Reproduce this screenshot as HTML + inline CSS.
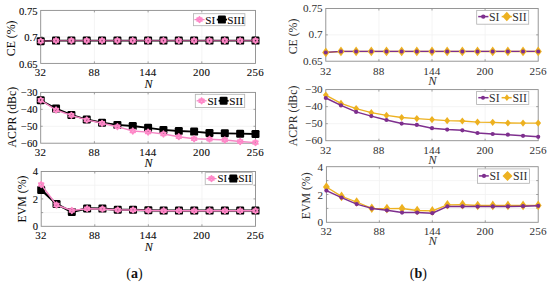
<!DOCTYPE html>
<html><head><meta charset="utf-8"><style>
html,body{margin:0;padding:0;background:#fff;width:550px;height:286px;overflow:hidden}
svg{display:block;font-family:"Liberation Serif", serif}
</style></head><body>
<svg width="550" height="286" viewBox="0 0 550 286" font-family='"Liberation Serif", serif'>
<rect width="550" height="286" fill="#fff"/>
<line x1="94.40" y1="10.40" x2="94.40" y2="63.40" stroke="#f1f1f1" stroke-width="0.8"/>
<line x1="148.10" y1="10.40" x2="148.10" y2="63.40" stroke="#f1f1f1" stroke-width="0.8"/>
<line x1="201.80" y1="10.40" x2="201.80" y2="63.40" stroke="#f1f1f1" stroke-width="0.8"/>
<line x1="40.70" y1="36.90" x2="255.50" y2="36.90" stroke="#f1f1f1" stroke-width="0.8"/>
<rect x="40.70" y="10.40" width="214.80" height="53.00" fill="none" stroke="#8c8c8c" stroke-width="0.9"/>
<line x1="94.40" y1="63.40" x2="94.40" y2="61.40" stroke="#8c8c8c" stroke-width="0.8"/>
<line x1="94.40" y1="10.40" x2="94.40" y2="12.40" stroke="#8c8c8c" stroke-width="0.8"/>
<line x1="148.10" y1="63.40" x2="148.10" y2="61.40" stroke="#8c8c8c" stroke-width="0.8"/>
<line x1="148.10" y1="10.40" x2="148.10" y2="12.40" stroke="#8c8c8c" stroke-width="0.8"/>
<line x1="201.80" y1="63.40" x2="201.80" y2="61.40" stroke="#8c8c8c" stroke-width="0.8"/>
<line x1="201.80" y1="10.40" x2="201.80" y2="12.40" stroke="#8c8c8c" stroke-width="0.8"/>
<line x1="40.70" y1="36.90" x2="42.70" y2="36.90" stroke="#8c8c8c" stroke-width="0.8"/>
<line x1="255.50" y1="36.90" x2="253.50" y2="36.90" stroke="#8c8c8c" stroke-width="0.8"/>
<text x="40.50" y="76.20" font-size="10.90" text-anchor="middle" fill="#0a0a0a" stroke="#0a0a0a" stroke-width="0.10" letter-spacing="0.25">32</text>
<text x="94.20" y="76.20" font-size="10.90" text-anchor="middle" fill="#0a0a0a" stroke="#0a0a0a" stroke-width="0.10" letter-spacing="0.25">88</text>
<text x="147.90" y="76.20" font-size="10.90" text-anchor="middle" fill="#0a0a0a" stroke="#0a0a0a" stroke-width="0.10" letter-spacing="0.25">144</text>
<text x="201.60" y="76.20" font-size="10.90" text-anchor="middle" fill="#0a0a0a" stroke="#0a0a0a" stroke-width="0.10" letter-spacing="0.25">200</text>
<text x="255.30" y="76.20" font-size="10.90" text-anchor="middle" fill="#0a0a0a" stroke="#0a0a0a" stroke-width="0.10" letter-spacing="0.25">256</text>
<text x="148.50" y="87.80" font-size="12.00" text-anchor="middle" fill="#0a0a0a" stroke="#0a0a0a" stroke-width="0.10" font-style="italic" letter-spacing="0">N</text>
<text x="37.50" y="14.70" font-size="10.60" text-anchor="end" fill="#0a0a0a" stroke="#0a0a0a" stroke-width="0.10" >0.75</text>
<text x="37.50" y="41.20" font-size="10.60" text-anchor="end" fill="#0a0a0a" stroke="#0a0a0a" stroke-width="0.10" >0.7</text>
<text x="37.50" y="67.70" font-size="10.60" text-anchor="end" fill="#0a0a0a" stroke="#0a0a0a" stroke-width="0.10" >0.65</text>
<text transform="translate(14.80,38.30) rotate(-90)" font-size="11.80" text-anchor="middle" fill="#0a0a0a">CE (%)</text>
<polyline points="40.70,41.20 56.04,40.60 71.39,40.60 86.73,40.60 102.07,40.60 117.41,40.60 132.76,40.60 148.10,40.60 163.44,40.60 178.79,40.60 194.13,40.60 209.47,40.60 224.81,40.60 240.16,40.60 255.50,40.60" fill="none" stroke="#000" stroke-width="1.80" stroke-linejoin="round"/>
<rect x="36.70" y="37.20" width="8.00" height="8.00" rx="1.2" fill="#000"/>
<rect x="52.04" y="36.60" width="8.00" height="8.00" rx="1.2" fill="#000"/>
<rect x="67.39" y="36.60" width="8.00" height="8.00" rx="1.2" fill="#000"/>
<rect x="82.73" y="36.60" width="8.00" height="8.00" rx="1.2" fill="#000"/>
<rect x="98.07" y="36.60" width="8.00" height="8.00" rx="1.2" fill="#000"/>
<rect x="113.41" y="36.60" width="8.00" height="8.00" rx="1.2" fill="#000"/>
<rect x="128.76" y="36.60" width="8.00" height="8.00" rx="1.2" fill="#000"/>
<rect x="144.10" y="36.60" width="8.00" height="8.00" rx="1.2" fill="#000"/>
<rect x="159.44" y="36.60" width="8.00" height="8.00" rx="1.2" fill="#000"/>
<rect x="174.79" y="36.60" width="8.00" height="8.00" rx="1.2" fill="#000"/>
<rect x="190.13" y="36.60" width="8.00" height="8.00" rx="1.2" fill="#000"/>
<rect x="205.47" y="36.60" width="8.00" height="8.00" rx="1.2" fill="#000"/>
<rect x="220.81" y="36.60" width="8.00" height="8.00" rx="1.2" fill="#000"/>
<rect x="236.16" y="36.60" width="8.00" height="8.00" rx="1.2" fill="#000"/>
<rect x="251.50" y="36.60" width="8.00" height="8.00" rx="1.2" fill="#000"/>
<polyline points="40.70,41.20 56.04,40.60 71.39,40.60 86.73,40.60 102.07,40.60 117.41,40.60 132.76,40.60 148.10,40.60 163.44,40.60 178.79,40.60 194.13,40.60 209.47,40.60 224.81,40.60 240.16,40.60 255.50,40.60" fill="none" stroke="#d0609f" stroke-width="0.80" stroke-linejoin="round"/>
<polygon points="40.70,38.50 39.92,39.84 38.36,39.85 39.13,41.20 38.36,42.55 39.92,42.56 40.70,43.90 41.48,42.56 43.04,42.55 42.27,41.20 43.04,39.85 41.48,39.84" fill="none" stroke="#ff88c8" stroke-width="1.8" stroke-linejoin="round"/>
<polygon points="56.04,37.90 55.26,39.24 53.70,39.25 54.48,40.60 53.70,41.95 55.26,41.96 56.04,43.30 56.83,41.96 58.38,41.95 57.61,40.60 58.38,39.25 56.83,39.24" fill="none" stroke="#ff88c8" stroke-width="1.8" stroke-linejoin="round"/>
<polygon points="71.39,37.90 70.60,39.24 69.05,39.25 69.82,40.60 69.05,41.95 70.60,41.96 71.39,43.30 72.17,41.96 73.72,41.95 72.95,40.60 73.72,39.25 72.17,39.24" fill="none" stroke="#ff88c8" stroke-width="1.8" stroke-linejoin="round"/>
<polygon points="86.73,37.90 85.95,39.24 84.39,39.25 85.16,40.60 84.39,41.95 85.95,41.96 86.73,43.30 87.51,41.96 89.07,41.95 88.29,40.60 89.07,39.25 87.51,39.24" fill="none" stroke="#ff88c8" stroke-width="1.8" stroke-linejoin="round"/>
<polygon points="102.07,37.90 101.29,39.24 99.73,39.25 100.51,40.60 99.73,41.95 101.29,41.96 102.07,43.30 102.85,41.96 104.41,41.95 103.64,40.60 104.41,39.25 102.85,39.24" fill="none" stroke="#ff88c8" stroke-width="1.8" stroke-linejoin="round"/>
<polygon points="117.41,37.90 116.63,39.24 115.08,39.25 115.85,40.60 115.08,41.95 116.63,41.96 117.41,43.30 118.20,41.96 119.75,41.95 118.98,40.60 119.75,39.25 118.20,39.24" fill="none" stroke="#ff88c8" stroke-width="1.8" stroke-linejoin="round"/>
<polygon points="132.76,37.90 131.97,39.24 130.42,39.25 131.19,40.60 130.42,41.95 131.97,41.96 132.76,43.30 133.54,41.96 135.10,41.95 134.32,40.60 135.10,39.25 133.54,39.24" fill="none" stroke="#ff88c8" stroke-width="1.8" stroke-linejoin="round"/>
<polygon points="148.10,37.90 147.32,39.24 145.76,39.25 146.53,40.60 145.76,41.95 147.32,41.96 148.10,43.30 148.88,41.96 150.44,41.95 149.67,40.60 150.44,39.25 148.88,39.24" fill="none" stroke="#ff88c8" stroke-width="1.8" stroke-linejoin="round"/>
<polygon points="163.44,37.90 162.66,39.24 161.10,39.25 161.88,40.60 161.10,41.95 162.66,41.96 163.44,43.30 164.23,41.96 165.78,41.95 165.01,40.60 165.78,39.25 164.23,39.24" fill="none" stroke="#ff88c8" stroke-width="1.8" stroke-linejoin="round"/>
<polygon points="178.79,37.90 178.00,39.24 176.45,39.25 177.22,40.60 176.45,41.95 178.00,41.96 178.79,43.30 179.57,41.96 181.12,41.95 180.35,40.60 181.12,39.25 179.57,39.24" fill="none" stroke="#ff88c8" stroke-width="1.8" stroke-linejoin="round"/>
<polygon points="194.13,37.90 193.35,39.24 191.79,39.25 192.56,40.60 191.79,41.95 193.35,41.96 194.13,43.30 194.91,41.96 196.47,41.95 195.69,40.60 196.47,39.25 194.91,39.24" fill="none" stroke="#ff88c8" stroke-width="1.8" stroke-linejoin="round"/>
<polygon points="209.47,37.90 208.69,39.24 207.13,39.25 207.91,40.60 207.13,41.95 208.69,41.96 209.47,43.30 210.25,41.96 211.81,41.95 211.04,40.60 211.81,39.25 210.25,39.24" fill="none" stroke="#ff88c8" stroke-width="1.8" stroke-linejoin="round"/>
<polygon points="224.81,37.90 224.03,39.24 222.48,39.25 223.25,40.60 222.48,41.95 224.03,41.96 224.81,43.30 225.60,41.96 227.15,41.95 226.38,40.60 227.15,39.25 225.60,39.24" fill="none" stroke="#ff88c8" stroke-width="1.8" stroke-linejoin="round"/>
<polygon points="240.16,37.90 239.37,39.24 237.82,39.25 238.59,40.60 237.82,41.95 239.37,41.96 240.16,43.30 240.94,41.96 242.50,41.95 241.72,40.60 242.50,39.25 240.94,39.24" fill="none" stroke="#ff88c8" stroke-width="1.8" stroke-linejoin="round"/>
<polygon points="255.50,37.90 254.72,39.24 253.16,39.25 253.93,40.60 253.16,41.95 254.72,41.96 255.50,43.30 256.28,41.96 257.84,41.95 257.07,40.60 257.84,39.25 256.28,39.24" fill="none" stroke="#ff88c8" stroke-width="1.8" stroke-linejoin="round"/>
<rect x="193.40" y="13.70" width="51.50" height="12.00" fill="#fff" stroke="#b0b0b0" stroke-width="0.8"/>
<line x1="194.4" y1="19.6" x2="204.6" y2="19.6" stroke="#f585c4" stroke-width="1.3"/>
<polygon points="199.50,16.90 198.72,18.24 197.16,18.25 197.93,19.60 197.16,20.95 198.72,20.96 199.50,22.30 200.28,20.96 201.84,20.95 201.07,19.60 201.84,18.25 200.28,18.24" fill="none" stroke="#ff88c8" stroke-width="1.8" stroke-linejoin="round"/>
<text x="205.30" y="23.80" font-size="11.20" text-anchor="start" fill="#0a0a0a" stroke="#0a0a0a" stroke-width="0.10" >SI</text>
<line x1="216.8" y1="19.6" x2="227" y2="19.6" stroke="#000" stroke-width="1.8"/>
<rect x="217.90" y="15.60" width="8.00" height="8.00" rx="1.2" fill="#000"/>
<text x="227.30" y="23.80" font-size="11.20" text-anchor="start" fill="#0a0a0a" stroke="#0a0a0a" stroke-width="0.10" >SIII</text>
<line x1="94.40" y1="92.40" x2="94.40" y2="143.20" stroke="#f1f1f1" stroke-width="0.8"/>
<line x1="148.10" y1="92.40" x2="148.10" y2="143.20" stroke="#f1f1f1" stroke-width="0.8"/>
<line x1="201.80" y1="92.40" x2="201.80" y2="143.20" stroke="#f1f1f1" stroke-width="0.8"/>
<line x1="40.70" y1="109.33" x2="255.50" y2="109.33" stroke="#f1f1f1" stroke-width="0.8"/>
<line x1="40.70" y1="126.27" x2="255.50" y2="126.27" stroke="#f1f1f1" stroke-width="0.8"/>
<rect x="40.70" y="92.40" width="214.80" height="50.80" fill="none" stroke="#8c8c8c" stroke-width="0.9"/>
<line x1="94.40" y1="143.20" x2="94.40" y2="141.20" stroke="#8c8c8c" stroke-width="0.8"/>
<line x1="94.40" y1="92.40" x2="94.40" y2="94.40" stroke="#8c8c8c" stroke-width="0.8"/>
<line x1="148.10" y1="143.20" x2="148.10" y2="141.20" stroke="#8c8c8c" stroke-width="0.8"/>
<line x1="148.10" y1="92.40" x2="148.10" y2="94.40" stroke="#8c8c8c" stroke-width="0.8"/>
<line x1="201.80" y1="143.20" x2="201.80" y2="141.20" stroke="#8c8c8c" stroke-width="0.8"/>
<line x1="201.80" y1="92.40" x2="201.80" y2="94.40" stroke="#8c8c8c" stroke-width="0.8"/>
<line x1="40.70" y1="109.33" x2="42.70" y2="109.33" stroke="#8c8c8c" stroke-width="0.8"/>
<line x1="255.50" y1="109.33" x2="253.50" y2="109.33" stroke="#8c8c8c" stroke-width="0.8"/>
<line x1="40.70" y1="126.27" x2="42.70" y2="126.27" stroke="#8c8c8c" stroke-width="0.8"/>
<line x1="255.50" y1="126.27" x2="253.50" y2="126.27" stroke="#8c8c8c" stroke-width="0.8"/>
<text x="40.50" y="155.80" font-size="10.90" text-anchor="middle" fill="#0a0a0a" stroke="#0a0a0a" stroke-width="0.10" letter-spacing="0.25">32</text>
<text x="94.20" y="155.80" font-size="10.90" text-anchor="middle" fill="#0a0a0a" stroke="#0a0a0a" stroke-width="0.10" letter-spacing="0.25">88</text>
<text x="147.90" y="155.80" font-size="10.90" text-anchor="middle" fill="#0a0a0a" stroke="#0a0a0a" stroke-width="0.10" letter-spacing="0.25">144</text>
<text x="201.60" y="155.80" font-size="10.90" text-anchor="middle" fill="#0a0a0a" stroke="#0a0a0a" stroke-width="0.10" letter-spacing="0.25">200</text>
<text x="255.30" y="155.80" font-size="10.90" text-anchor="middle" fill="#0a0a0a" stroke="#0a0a0a" stroke-width="0.10" letter-spacing="0.25">256</text>
<text x="148.50" y="167.40" font-size="12.00" text-anchor="middle" fill="#0a0a0a" stroke="#0a0a0a" stroke-width="0.10" font-style="italic" letter-spacing="0">N</text>
<text x="37.50" y="96.40" font-size="10.60" text-anchor="end" fill="#0a0a0a" stroke="#0a0a0a" stroke-width="0.10" >&#8722;30</text>
<text x="37.50" y="113.33" font-size="10.60" text-anchor="end" fill="#0a0a0a" stroke="#0a0a0a" stroke-width="0.10" >&#8722;40</text>
<text x="37.50" y="130.27" font-size="10.60" text-anchor="end" fill="#0a0a0a" stroke="#0a0a0a" stroke-width="0.10" >&#8722;50</text>
<text x="37.50" y="147.20" font-size="10.60" text-anchor="end" fill="#0a0a0a" stroke="#0a0a0a" stroke-width="0.10" >&#8722;60</text>
<text transform="translate(15.60,117.20) rotate(-90)" font-size="11.80" text-anchor="middle" fill="#0a0a0a">ACPR (dBc)</text>
<polyline points="40.70,100.20 56.04,108.60 71.39,114.90 86.73,119.50 102.07,122.70 117.41,124.90 132.76,126.00 148.10,127.80 163.44,129.90 178.79,131.00 194.13,131.60 209.47,133.00 224.81,133.30 240.16,133.70 255.50,134.00" fill="none" stroke="#000" stroke-width="1.80" stroke-linejoin="round"/>
<rect x="36.70" y="96.20" width="8.00" height="8.00" rx="1.2" fill="#000"/>
<rect x="52.04" y="104.60" width="8.00" height="8.00" rx="1.2" fill="#000"/>
<rect x="67.39" y="110.90" width="8.00" height="8.00" rx="1.2" fill="#000"/>
<rect x="82.73" y="115.50" width="8.00" height="8.00" rx="1.2" fill="#000"/>
<rect x="98.07" y="118.70" width="8.00" height="8.00" rx="1.2" fill="#000"/>
<rect x="113.41" y="120.90" width="8.00" height="8.00" rx="1.2" fill="#000"/>
<rect x="128.76" y="122.00" width="8.00" height="8.00" rx="1.2" fill="#000"/>
<rect x="144.10" y="123.80" width="8.00" height="8.00" rx="1.2" fill="#000"/>
<rect x="159.44" y="125.90" width="8.00" height="8.00" rx="1.2" fill="#000"/>
<rect x="174.79" y="127.00" width="8.00" height="8.00" rx="1.2" fill="#000"/>
<rect x="190.13" y="127.60" width="8.00" height="8.00" rx="1.2" fill="#000"/>
<rect x="205.47" y="129.00" width="8.00" height="8.00" rx="1.2" fill="#000"/>
<rect x="220.81" y="129.30" width="8.00" height="8.00" rx="1.2" fill="#000"/>
<rect x="236.16" y="129.70" width="8.00" height="8.00" rx="1.2" fill="#000"/>
<rect x="251.50" y="130.00" width="8.00" height="8.00" rx="1.2" fill="#000"/>
<polyline points="40.70,100.20 56.04,110.00 71.39,115.30 86.73,119.90 102.07,123.30 117.41,126.70 132.76,131.00 148.10,132.10 163.44,134.00 178.79,136.70 194.13,138.80 209.47,139.20 224.81,140.00 240.16,141.50 255.50,142.60" fill="none" stroke="#f585c4" stroke-width="1.40" stroke-linejoin="round"/>
<polygon points="40.70,97.50 39.92,98.84 38.36,98.85 39.13,100.20 38.36,101.55 39.92,101.56 40.70,102.90 41.48,101.56 43.04,101.55 42.27,100.20 43.04,98.85 41.48,98.84" fill="none" stroke="#ff88c8" stroke-width="1.8" stroke-linejoin="round"/>
<polygon points="56.04,107.30 55.26,108.64 53.70,108.65 54.48,110.00 53.70,111.35 55.26,111.36 56.04,112.70 56.83,111.36 58.38,111.35 57.61,110.00 58.38,108.65 56.83,108.64" fill="none" stroke="#ff88c8" stroke-width="1.8" stroke-linejoin="round"/>
<polygon points="71.39,112.60 70.60,113.94 69.05,113.95 69.82,115.30 69.05,116.65 70.60,116.66 71.39,118.00 72.17,116.66 73.72,116.65 72.95,115.30 73.72,113.95 72.17,113.94" fill="none" stroke="#ff88c8" stroke-width="1.8" stroke-linejoin="round"/>
<polygon points="86.73,117.20 85.95,118.54 84.39,118.55 85.16,119.90 84.39,121.25 85.95,121.26 86.73,122.60 87.51,121.26 89.07,121.25 88.29,119.90 89.07,118.55 87.51,118.54" fill="none" stroke="#ff88c8" stroke-width="1.8" stroke-linejoin="round"/>
<polygon points="102.07,120.60 101.29,121.94 99.73,121.95 100.51,123.30 99.73,124.65 101.29,124.66 102.07,126.00 102.85,124.66 104.41,124.65 103.64,123.30 104.41,121.95 102.85,121.94" fill="none" stroke="#ff88c8" stroke-width="1.8" stroke-linejoin="round"/>
<polygon points="117.41,124.00 116.63,125.34 115.08,125.35 115.85,126.70 115.08,128.05 116.63,128.06 117.41,129.40 118.20,128.06 119.75,128.05 118.98,126.70 119.75,125.35 118.20,125.34" fill="none" stroke="#ff88c8" stroke-width="1.8" stroke-linejoin="round"/>
<polygon points="132.76,128.30 131.97,129.64 130.42,129.65 131.19,131.00 130.42,132.35 131.97,132.36 132.76,133.70 133.54,132.36 135.10,132.35 134.32,131.00 135.10,129.65 133.54,129.64" fill="none" stroke="#ff88c8" stroke-width="1.8" stroke-linejoin="round"/>
<polygon points="148.10,129.40 147.32,130.74 145.76,130.75 146.53,132.10 145.76,133.45 147.32,133.46 148.10,134.80 148.88,133.46 150.44,133.45 149.67,132.10 150.44,130.75 148.88,130.74" fill="none" stroke="#ff88c8" stroke-width="1.8" stroke-linejoin="round"/>
<polygon points="163.44,131.30 162.66,132.64 161.10,132.65 161.88,134.00 161.10,135.35 162.66,135.36 163.44,136.70 164.23,135.36 165.78,135.35 165.01,134.00 165.78,132.65 164.23,132.64" fill="none" stroke="#ff88c8" stroke-width="1.8" stroke-linejoin="round"/>
<polygon points="178.79,134.00 178.00,135.34 176.45,135.35 177.22,136.70 176.45,138.05 178.00,138.06 178.79,139.40 179.57,138.06 181.12,138.05 180.35,136.70 181.12,135.35 179.57,135.34" fill="none" stroke="#ff88c8" stroke-width="1.8" stroke-linejoin="round"/>
<polygon points="194.13,136.10 193.35,137.44 191.79,137.45 192.56,138.80 191.79,140.15 193.35,140.16 194.13,141.50 194.91,140.16 196.47,140.15 195.69,138.80 196.47,137.45 194.91,137.44" fill="none" stroke="#ff88c8" stroke-width="1.8" stroke-linejoin="round"/>
<polygon points="209.47,136.50 208.69,137.84 207.13,137.85 207.91,139.20 207.13,140.55 208.69,140.56 209.47,141.90 210.25,140.56 211.81,140.55 211.04,139.20 211.81,137.85 210.25,137.84" fill="none" stroke="#ff88c8" stroke-width="1.8" stroke-linejoin="round"/>
<polygon points="224.81,137.30 224.03,138.64 222.48,138.65 223.25,140.00 222.48,141.35 224.03,141.36 224.81,142.70 225.60,141.36 227.15,141.35 226.38,140.00 227.15,138.65 225.60,138.64" fill="none" stroke="#ff88c8" stroke-width="1.8" stroke-linejoin="round"/>
<polygon points="240.16,138.80 239.37,140.14 237.82,140.15 238.59,141.50 237.82,142.85 239.37,142.86 240.16,144.20 240.94,142.86 242.50,142.85 241.72,141.50 242.50,140.15 240.94,140.14" fill="none" stroke="#ff88c8" stroke-width="1.8" stroke-linejoin="round"/>
<polygon points="255.50,139.90 254.72,141.24 253.16,141.25 253.93,142.60 253.16,143.95 254.72,143.96 255.50,145.30 256.28,143.96 257.84,143.95 257.07,142.60 257.84,141.25 256.28,141.24" fill="none" stroke="#ff88c8" stroke-width="1.8" stroke-linejoin="round"/>
<rect x="195.30" y="94.30" width="49.40" height="13.30" fill="#fff" stroke="#b0b0b0" stroke-width="0.8"/>
<line x1="196.6" y1="100.8" x2="206.6" y2="100.8" stroke="#f585c4" stroke-width="1.3"/>
<polygon points="201.60,98.10 200.82,99.44 199.26,99.45 200.03,100.80 199.26,102.15 200.82,102.16 201.60,103.50 202.38,102.16 203.94,102.15 203.17,100.80 203.94,99.45 202.38,99.44" fill="none" stroke="#ff88c8" stroke-width="1.8" stroke-linejoin="round"/>
<text x="207.40" y="104.60" font-size="11.20" text-anchor="start" fill="#0a0a0a" stroke="#0a0a0a" stroke-width="0.10" >SI</text>
<line x1="218.6" y1="100.8" x2="228.6" y2="100.8" stroke="#000" stroke-width="1.8"/>
<rect x="219.60" y="96.80" width="8.00" height="8.00" rx="1.2" fill="#000"/>
<text x="229.20" y="104.60" font-size="11.20" text-anchor="start" fill="#0a0a0a" stroke="#0a0a0a" stroke-width="0.10" >SII</text>
<line x1="94.78" y1="171.50" x2="94.78" y2="226.30" stroke="#f1f1f1" stroke-width="0.8"/>
<line x1="148.35" y1="171.50" x2="148.35" y2="226.30" stroke="#f1f1f1" stroke-width="0.8"/>
<line x1="201.93" y1="171.50" x2="201.93" y2="226.30" stroke="#f1f1f1" stroke-width="0.8"/>
<line x1="41.20" y1="185.20" x2="255.50" y2="185.20" stroke="#f1f1f1" stroke-width="0.8"/>
<line x1="41.20" y1="198.90" x2="255.50" y2="198.90" stroke="#f1f1f1" stroke-width="0.8"/>
<line x1="41.20" y1="212.60" x2="255.50" y2="212.60" stroke="#f1f1f1" stroke-width="0.8"/>
<rect x="41.20" y="171.50" width="214.30" height="54.80" fill="none" stroke="#8c8c8c" stroke-width="0.9"/>
<line x1="94.78" y1="226.30" x2="94.78" y2="224.30" stroke="#8c8c8c" stroke-width="0.8"/>
<line x1="94.78" y1="171.50" x2="94.78" y2="173.50" stroke="#8c8c8c" stroke-width="0.8"/>
<line x1="148.35" y1="226.30" x2="148.35" y2="224.30" stroke="#8c8c8c" stroke-width="0.8"/>
<line x1="148.35" y1="171.50" x2="148.35" y2="173.50" stroke="#8c8c8c" stroke-width="0.8"/>
<line x1="201.93" y1="226.30" x2="201.93" y2="224.30" stroke="#8c8c8c" stroke-width="0.8"/>
<line x1="201.93" y1="171.50" x2="201.93" y2="173.50" stroke="#8c8c8c" stroke-width="0.8"/>
<line x1="41.20" y1="185.20" x2="43.20" y2="185.20" stroke="#8c8c8c" stroke-width="0.8"/>
<line x1="255.50" y1="185.20" x2="253.50" y2="185.20" stroke="#8c8c8c" stroke-width="0.8"/>
<line x1="41.20" y1="198.90" x2="43.20" y2="198.90" stroke="#8c8c8c" stroke-width="0.8"/>
<line x1="255.50" y1="198.90" x2="253.50" y2="198.90" stroke="#8c8c8c" stroke-width="0.8"/>
<line x1="41.20" y1="212.60" x2="43.20" y2="212.60" stroke="#8c8c8c" stroke-width="0.8"/>
<line x1="255.50" y1="212.60" x2="253.50" y2="212.60" stroke="#8c8c8c" stroke-width="0.8"/>
<text x="41.00" y="239.10" font-size="10.90" text-anchor="middle" fill="#0a0a0a" stroke="#0a0a0a" stroke-width="0.10" letter-spacing="0.25">32</text>
<text x="94.58" y="239.10" font-size="10.90" text-anchor="middle" fill="#0a0a0a" stroke="#0a0a0a" stroke-width="0.10" letter-spacing="0.25">88</text>
<text x="148.15" y="239.10" font-size="10.90" text-anchor="middle" fill="#0a0a0a" stroke="#0a0a0a" stroke-width="0.10" letter-spacing="0.25">144</text>
<text x="201.72" y="239.10" font-size="10.90" text-anchor="middle" fill="#0a0a0a" stroke="#0a0a0a" stroke-width="0.10" letter-spacing="0.25">200</text>
<text x="255.30" y="239.10" font-size="10.90" text-anchor="middle" fill="#0a0a0a" stroke="#0a0a0a" stroke-width="0.10" letter-spacing="0.25">256</text>
<text x="148.75" y="250.60" font-size="12.00" text-anchor="middle" fill="#0a0a0a" stroke="#0a0a0a" stroke-width="0.10" font-style="italic" letter-spacing="0">N</text>
<text x="38.00" y="175.10" font-size="10.60" text-anchor="end" fill="#0a0a0a" stroke="#0a0a0a" stroke-width="0.10" >4</text>
<text x="38.00" y="202.50" font-size="10.60" text-anchor="end" fill="#0a0a0a" stroke="#0a0a0a" stroke-width="0.10" >2</text>
<text x="38.00" y="229.90" font-size="10.60" text-anchor="end" fill="#0a0a0a" stroke="#0a0a0a" stroke-width="0.10" >0</text>
<text transform="translate(25.90,199.00) rotate(-90)" font-size="11.80" text-anchor="middle" fill="#0a0a0a">EVM (%)</text>
<polyline points="41.20,189.90 56.51,204.00 71.81,212.00 87.12,208.40 102.43,208.60 117.74,209.80 133.04,209.80 148.35,210.30 163.66,210.60 178.96,210.60 194.27,210.60 209.58,210.60 224.89,210.60 240.19,210.60 255.50,210.60" fill="none" stroke="#000" stroke-width="2.20" stroke-linejoin="round"/>
<rect x="37.20" y="185.90" width="8.00" height="8.00" rx="1.2" fill="#000"/>
<rect x="52.51" y="200.00" width="8.00" height="8.00" rx="1.2" fill="#000"/>
<rect x="67.81" y="208.00" width="8.00" height="8.00" rx="1.2" fill="#000"/>
<rect x="83.12" y="204.40" width="8.00" height="8.00" rx="1.2" fill="#000"/>
<rect x="98.43" y="204.60" width="8.00" height="8.00" rx="1.2" fill="#000"/>
<rect x="113.74" y="205.80" width="8.00" height="8.00" rx="1.2" fill="#000"/>
<rect x="129.04" y="205.80" width="8.00" height="8.00" rx="1.2" fill="#000"/>
<rect x="144.35" y="206.30" width="8.00" height="8.00" rx="1.2" fill="#000"/>
<rect x="159.66" y="206.60" width="8.00" height="8.00" rx="1.2" fill="#000"/>
<rect x="174.96" y="206.60" width="8.00" height="8.00" rx="1.2" fill="#000"/>
<rect x="190.27" y="206.60" width="8.00" height="8.00" rx="1.2" fill="#000"/>
<rect x="205.58" y="206.60" width="8.00" height="8.00" rx="1.2" fill="#000"/>
<rect x="220.89" y="206.60" width="8.00" height="8.00" rx="1.2" fill="#000"/>
<rect x="236.19" y="206.60" width="8.00" height="8.00" rx="1.2" fill="#000"/>
<rect x="251.50" y="206.60" width="8.00" height="8.00" rx="1.2" fill="#000"/>
<polyline points="41.20,184.60 56.51,205.00 71.81,210.50 87.12,208.70 102.43,208.90 117.74,209.90 133.04,209.90 148.35,210.40 163.66,210.70 178.96,210.70 194.27,210.70 209.58,210.70 224.89,210.70 240.19,210.70 255.50,210.70" fill="none" stroke="#f585c4" stroke-width="1.50" stroke-linejoin="round"/>
<polygon points="41.20,181.90 40.42,183.24 38.86,183.25 39.63,184.60 38.86,185.95 40.42,185.96 41.20,187.30 41.98,185.96 43.54,185.95 42.77,184.60 43.54,183.25 41.98,183.24" fill="none" stroke="#ff88c8" stroke-width="1.8" stroke-linejoin="round"/>
<polygon points="56.51,202.30 55.72,203.64 54.17,203.65 54.94,205.00 54.17,206.35 55.72,206.36 56.51,207.70 57.29,206.36 58.85,206.35 58.07,205.00 58.85,203.65 57.29,203.64" fill="none" stroke="#ff88c8" stroke-width="1.8" stroke-linejoin="round"/>
<polygon points="71.81,207.80 71.03,209.14 69.48,209.15 70.25,210.50 69.48,211.85 71.03,211.86 71.81,213.20 72.60,211.86 74.15,211.85 73.38,210.50 74.15,209.15 72.60,209.14" fill="none" stroke="#ff88c8" stroke-width="1.8" stroke-linejoin="round"/>
<polygon points="87.12,206.00 86.34,207.34 84.78,207.35 85.56,208.70 84.78,210.05 86.34,210.06 87.12,211.40 87.90,210.06 89.46,210.05 88.69,208.70 89.46,207.35 87.90,207.34" fill="none" stroke="#ff88c8" stroke-width="1.8" stroke-linejoin="round"/>
<polygon points="102.43,206.20 101.65,207.54 100.09,207.55 100.86,208.90 100.09,210.25 101.65,210.26 102.43,211.60 103.21,210.26 104.77,210.25 103.99,208.90 104.77,207.55 103.21,207.54" fill="none" stroke="#ff88c8" stroke-width="1.8" stroke-linejoin="round"/>
<polygon points="117.74,207.20 116.95,208.54 115.40,208.55 116.17,209.90 115.40,211.25 116.95,211.26 117.74,212.60 118.52,211.26 120.07,211.25 119.30,209.90 120.07,208.55 118.52,208.54" fill="none" stroke="#ff88c8" stroke-width="1.8" stroke-linejoin="round"/>
<polygon points="133.04,207.20 132.26,208.54 130.70,208.55 131.48,209.90 130.70,211.25 132.26,211.26 133.04,212.60 133.83,211.26 135.38,211.25 134.61,209.90 135.38,208.55 133.83,208.54" fill="none" stroke="#ff88c8" stroke-width="1.8" stroke-linejoin="round"/>
<polygon points="148.35,207.70 147.57,209.04 146.01,209.05 146.78,210.40 146.01,211.75 147.57,211.76 148.35,213.10 149.13,211.76 150.69,211.75 149.92,210.40 150.69,209.05 149.13,209.04" fill="none" stroke="#ff88c8" stroke-width="1.8" stroke-linejoin="round"/>
<polygon points="163.66,208.00 162.87,209.34 161.32,209.35 162.09,210.70 161.32,212.05 162.87,212.06 163.66,213.40 164.44,212.06 166.00,212.05 165.22,210.70 166.00,209.35 164.44,209.34" fill="none" stroke="#ff88c8" stroke-width="1.8" stroke-linejoin="round"/>
<polygon points="178.96,208.00 178.18,209.34 176.63,209.35 177.40,210.70 176.63,212.05 178.18,212.06 178.96,213.40 179.75,212.06 181.30,212.05 180.53,210.70 181.30,209.35 179.75,209.34" fill="none" stroke="#ff88c8" stroke-width="1.8" stroke-linejoin="round"/>
<polygon points="194.27,208.00 193.49,209.34 191.93,209.35 192.71,210.70 191.93,212.05 193.49,212.06 194.27,213.40 195.05,212.06 196.61,212.05 195.84,210.70 196.61,209.35 195.05,209.34" fill="none" stroke="#ff88c8" stroke-width="1.8" stroke-linejoin="round"/>
<polygon points="209.58,208.00 208.80,209.34 207.24,209.35 208.01,210.70 207.24,212.05 208.80,212.06 209.58,213.40 210.36,212.06 211.92,212.05 211.14,210.70 211.92,209.35 210.36,209.34" fill="none" stroke="#ff88c8" stroke-width="1.8" stroke-linejoin="round"/>
<polygon points="224.89,208.00 224.10,209.34 222.55,209.35 223.32,210.70 222.55,212.05 224.10,212.06 224.89,213.40 225.67,212.06 227.22,212.05 226.45,210.70 227.22,209.35 225.67,209.34" fill="none" stroke="#ff88c8" stroke-width="1.8" stroke-linejoin="round"/>
<polygon points="240.19,208.00 239.41,209.34 237.85,209.35 238.63,210.70 237.85,212.05 239.41,212.06 240.19,213.40 240.98,212.06 242.53,212.05 241.76,210.70 242.53,209.35 240.98,209.34" fill="none" stroke="#ff88c8" stroke-width="1.8" stroke-linejoin="round"/>
<polygon points="255.50,208.00 254.72,209.34 253.16,209.35 253.93,210.70 253.16,212.05 254.72,212.06 255.50,213.40 256.28,212.06 257.84,212.05 257.07,210.70 257.84,209.35 256.28,209.34" fill="none" stroke="#ff88c8" stroke-width="1.8" stroke-linejoin="round"/>
<rect x="205.20" y="172.60" width="47.10" height="11.90" fill="#fff" stroke="#b0b0b0" stroke-width="0.8"/>
<line x1="206.5" y1="178.6" x2="216.5" y2="178.6" stroke="#f585c4" stroke-width="1.3"/>
<polygon points="211.50,175.90 210.72,177.24 209.16,177.25 209.93,178.60 209.16,179.95 210.72,179.96 211.50,181.30 212.28,179.96 213.84,179.95 213.07,178.60 213.84,177.25 212.28,177.24" fill="none" stroke="#ff88c8" stroke-width="1.8" stroke-linejoin="round"/>
<text x="217.60" y="182.20" font-size="10.80" text-anchor="start" fill="#0a0a0a" stroke="#0a0a0a" stroke-width="0.10" >SI</text>
<line x1="228.3" y1="178.6" x2="238.3" y2="178.6" stroke="#000" stroke-width="1.8"/>
<rect x="229.30" y="174.60" width="8.00" height="8.00" rx="1.2" fill="#000"/>
<text x="238.60" y="182.20" font-size="10.80" text-anchor="start" fill="#0a0a0a" stroke="#0a0a0a" stroke-width="0.10" >SII</text>
<text x="134.4" y="278.2" font-size="14" text-anchor="middle" fill="#111">(<tspan font-weight="bold">a</tspan>)</text>
<line x1="378.90" y1="8.50" x2="378.90" y2="61.20" stroke="#f1f1f1" stroke-width="0.8"/>
<line x1="432.00" y1="8.50" x2="432.00" y2="61.20" stroke="#f1f1f1" stroke-width="0.8"/>
<line x1="485.10" y1="8.50" x2="485.10" y2="61.20" stroke="#f1f1f1" stroke-width="0.8"/>
<line x1="325.80" y1="34.85" x2="538.20" y2="34.85" stroke="#f1f1f1" stroke-width="0.8"/>
<rect x="325.80" y="8.50" width="212.40" height="52.70" fill="none" stroke="#8c8c8c" stroke-width="0.9"/>
<line x1="378.90" y1="61.20" x2="378.90" y2="59.20" stroke="#8c8c8c" stroke-width="0.8"/>
<line x1="378.90" y1="8.50" x2="378.90" y2="10.50" stroke="#8c8c8c" stroke-width="0.8"/>
<line x1="432.00" y1="61.20" x2="432.00" y2="59.20" stroke="#8c8c8c" stroke-width="0.8"/>
<line x1="432.00" y1="8.50" x2="432.00" y2="10.50" stroke="#8c8c8c" stroke-width="0.8"/>
<line x1="485.10" y1="61.20" x2="485.10" y2="59.20" stroke="#8c8c8c" stroke-width="0.8"/>
<line x1="485.10" y1="8.50" x2="485.10" y2="10.50" stroke="#8c8c8c" stroke-width="0.8"/>
<line x1="325.80" y1="34.85" x2="327.80" y2="34.85" stroke="#8c8c8c" stroke-width="0.8"/>
<line x1="538.20" y1="34.85" x2="536.20" y2="34.85" stroke="#8c8c8c" stroke-width="0.8"/>
<text x="325.68" y="74.60" font-size="11.20" text-anchor="middle" fill="#303030" letter-spacing="0.10">32</text>
<text x="378.78" y="74.60" font-size="11.20" text-anchor="middle" fill="#303030" letter-spacing="0.10">88</text>
<text x="431.88" y="74.60" font-size="11.20" text-anchor="middle" fill="#303030" letter-spacing="0.10">144</text>
<text x="484.98" y="74.60" font-size="11.20" text-anchor="middle" fill="#303030" letter-spacing="0.10">200</text>
<text x="538.08" y="74.60" font-size="11.20" text-anchor="middle" fill="#303030" letter-spacing="0.10">256</text>
<text x="432.40" y="85.20" font-size="12.60" text-anchor="middle" fill="#303030" font-style="italic" letter-spacing="0">N</text>
<text x="322.60" y="12.10" font-size="11.20" text-anchor="end" fill="#303030" >0.75</text>
<text x="322.60" y="38.45" font-size="11.20" text-anchor="end" fill="#303030" >0.7</text>
<text x="322.60" y="64.80" font-size="11.20" text-anchor="end" fill="#303030" >0.65</text>
<text transform="translate(297.00,36.50) rotate(-90)" font-size="11.80" text-anchor="middle" fill="#303030">CE (%)</text>
<polyline points="325.80,52.40 340.97,51.40 356.14,51.40 371.31,51.40 386.49,51.40 401.66,51.40 416.83,51.40 432.00,51.40 447.17,51.40 462.34,51.40 477.51,51.40 492.69,51.40 507.86,51.40 523.03,51.40 538.20,51.40" fill="none" stroke="#edb120" stroke-width="1.50" stroke-linejoin="round"/>
<polyline points="325.80,52.40 340.97,51.40 356.14,51.40 371.31,51.40 386.49,51.40 401.66,51.40 416.83,51.40 432.00,51.40 447.17,51.40 462.34,51.40 477.51,51.40 492.69,51.40 507.86,51.40 523.03,51.40 538.20,51.40" fill="none" stroke="#7e2f8e" stroke-width="1.30" stroke-linejoin="round"/>
<polygon points="325.80,47.50 329.40,52.40 325.80,57.30 322.20,52.40" fill="#edb120"/>
<polygon points="340.97,46.50 344.57,51.40 340.97,56.30 337.37,51.40" fill="#edb120"/>
<polygon points="356.14,46.50 359.74,51.40 356.14,56.30 352.54,51.40" fill="#edb120"/>
<polygon points="371.31,46.50 374.91,51.40 371.31,56.30 367.71,51.40" fill="#edb120"/>
<polygon points="386.49,46.50 390.09,51.40 386.49,56.30 382.89,51.40" fill="#edb120"/>
<polygon points="401.66,46.50 405.26,51.40 401.66,56.30 398.06,51.40" fill="#edb120"/>
<polygon points="416.83,46.50 420.43,51.40 416.83,56.30 413.23,51.40" fill="#edb120"/>
<polygon points="432.00,46.50 435.60,51.40 432.00,56.30 428.40,51.40" fill="#edb120"/>
<polygon points="447.17,46.50 450.77,51.40 447.17,56.30 443.57,51.40" fill="#edb120"/>
<polygon points="462.34,46.50 465.94,51.40 462.34,56.30 458.74,51.40" fill="#edb120"/>
<polygon points="477.51,46.50 481.11,51.40 477.51,56.30 473.91,51.40" fill="#edb120"/>
<polygon points="492.69,46.50 496.29,51.40 492.69,56.30 489.09,51.40" fill="#edb120"/>
<polygon points="507.86,46.50 511.46,51.40 507.86,56.30 504.26,51.40" fill="#edb120"/>
<polygon points="523.03,46.50 526.63,51.40 523.03,56.30 519.43,51.40" fill="#edb120"/>
<polygon points="538.20,46.50 541.80,51.40 538.20,56.30 534.60,51.40" fill="#edb120"/>
<circle cx="325.80" cy="52.40" r="2.00" fill="#7e2f8e"/>
<circle cx="340.97" cy="51.40" r="2.00" fill="#7e2f8e"/>
<circle cx="356.14" cy="51.40" r="2.00" fill="#7e2f8e"/>
<circle cx="371.31" cy="51.40" r="2.00" fill="#7e2f8e"/>
<circle cx="386.49" cy="51.40" r="2.00" fill="#7e2f8e"/>
<circle cx="401.66" cy="51.40" r="2.00" fill="#7e2f8e"/>
<circle cx="416.83" cy="51.40" r="2.00" fill="#7e2f8e"/>
<circle cx="432.00" cy="51.40" r="2.00" fill="#7e2f8e"/>
<circle cx="447.17" cy="51.40" r="2.00" fill="#7e2f8e"/>
<circle cx="462.34" cy="51.40" r="2.00" fill="#7e2f8e"/>
<circle cx="477.51" cy="51.40" r="2.00" fill="#7e2f8e"/>
<circle cx="492.69" cy="51.40" r="2.00" fill="#7e2f8e"/>
<circle cx="507.86" cy="51.40" r="2.00" fill="#7e2f8e"/>
<circle cx="523.03" cy="51.40" r="2.00" fill="#7e2f8e"/>
<circle cx="538.20" cy="51.40" r="2.00" fill="#7e2f8e"/>
<rect x="476.70" y="10.40" width="52.00" height="13.80" fill="#fff" stroke="#b0b0b0" stroke-width="0.8"/>
<line x1="478.2" y1="16.6" x2="488.4" y2="16.6" stroke="#7e2f8e" stroke-width="1.5"/>
<circle cx="483.30" cy="16.60" r="2.20" fill="#7e2f8e"/>
<text x="489.00" y="20.60" font-size="11.80" text-anchor="start" fill="#303030" >SI</text>
<line x1="501.7" y1="16.6" x2="511.9" y2="16.6" stroke="#edb120" stroke-width="1.5"/>
<polygon points="506.80,11.85 511.20,16.60 506.80,21.35 502.40,16.60" fill="#edb120"/>
<text x="512.30" y="20.60" font-size="11.80" text-anchor="start" fill="#303030" >SII</text>
<line x1="378.90" y1="89.60" x2="378.90" y2="140.70" stroke="#f1f1f1" stroke-width="0.8"/>
<line x1="432.00" y1="89.60" x2="432.00" y2="140.70" stroke="#f1f1f1" stroke-width="0.8"/>
<line x1="485.10" y1="89.60" x2="485.10" y2="140.70" stroke="#f1f1f1" stroke-width="0.8"/>
<line x1="325.80" y1="106.63" x2="538.20" y2="106.63" stroke="#f1f1f1" stroke-width="0.8"/>
<line x1="325.80" y1="123.67" x2="538.20" y2="123.67" stroke="#f1f1f1" stroke-width="0.8"/>
<rect x="325.80" y="89.60" width="212.40" height="51.10" fill="none" stroke="#8c8c8c" stroke-width="0.9"/>
<line x1="378.90" y1="140.70" x2="378.90" y2="138.70" stroke="#8c8c8c" stroke-width="0.8"/>
<line x1="378.90" y1="89.60" x2="378.90" y2="91.60" stroke="#8c8c8c" stroke-width="0.8"/>
<line x1="432.00" y1="140.70" x2="432.00" y2="138.70" stroke="#8c8c8c" stroke-width="0.8"/>
<line x1="432.00" y1="89.60" x2="432.00" y2="91.60" stroke="#8c8c8c" stroke-width="0.8"/>
<line x1="485.10" y1="140.70" x2="485.10" y2="138.70" stroke="#8c8c8c" stroke-width="0.8"/>
<line x1="485.10" y1="89.60" x2="485.10" y2="91.60" stroke="#8c8c8c" stroke-width="0.8"/>
<line x1="325.80" y1="106.63" x2="327.80" y2="106.63" stroke="#8c8c8c" stroke-width="0.8"/>
<line x1="538.20" y1="106.63" x2="536.20" y2="106.63" stroke="#8c8c8c" stroke-width="0.8"/>
<line x1="325.80" y1="123.67" x2="327.80" y2="123.67" stroke="#8c8c8c" stroke-width="0.8"/>
<line x1="538.20" y1="123.67" x2="536.20" y2="123.67" stroke="#8c8c8c" stroke-width="0.8"/>
<text x="325.68" y="153.90" font-size="11.20" text-anchor="middle" fill="#303030" letter-spacing="0.10">32</text>
<text x="378.78" y="153.90" font-size="11.20" text-anchor="middle" fill="#303030" letter-spacing="0.10">88</text>
<text x="431.88" y="153.90" font-size="11.20" text-anchor="middle" fill="#303030" letter-spacing="0.10">144</text>
<text x="484.98" y="153.90" font-size="11.20" text-anchor="middle" fill="#303030" letter-spacing="0.10">200</text>
<text x="538.08" y="153.90" font-size="11.20" text-anchor="middle" fill="#303030" letter-spacing="0.10">256</text>
<text x="432.40" y="163.90" font-size="12.60" text-anchor="middle" fill="#303030" font-style="italic" letter-spacing="0">N</text>
<text x="322.60" y="93.20" font-size="11.20" text-anchor="end" fill="#303030" >&#8722;30</text>
<text x="322.60" y="110.23" font-size="11.20" text-anchor="end" fill="#303030" >&#8722;40</text>
<text x="322.60" y="127.27" font-size="11.20" text-anchor="end" fill="#303030" >&#8722;50</text>
<text x="322.60" y="144.30" font-size="11.20" text-anchor="end" fill="#303030" >&#8722;60</text>
<text transform="translate(297.20,116.00) rotate(-90)" font-size="11.80" text-anchor="middle" fill="#303030">ACPR (dBc)</text>
<polyline points="325.80,95.10 340.97,103.40 356.14,108.60 371.31,112.70 386.49,115.40 401.66,117.50 416.83,118.60 432.00,119.60 447.17,120.70 462.34,121.00 477.51,122.10 492.69,122.30 507.86,123.00 523.03,123.10 538.20,123.10" fill="none" stroke="#edb120" stroke-width="1.30" stroke-linejoin="round"/>
<polygon points="325.80,91.50 328.70,95.10 325.80,98.70 322.90,95.10" fill="#edb120"/>
<polygon points="340.97,99.80 343.87,103.40 340.97,107.00 338.07,103.40" fill="#edb120"/>
<polygon points="356.14,105.00 359.04,108.60 356.14,112.20 353.24,108.60" fill="#edb120"/>
<polygon points="371.31,109.10 374.21,112.70 371.31,116.30 368.41,112.70" fill="#edb120"/>
<polygon points="386.49,111.80 389.39,115.40 386.49,119.00 383.59,115.40" fill="#edb120"/>
<polygon points="401.66,113.90 404.56,117.50 401.66,121.10 398.76,117.50" fill="#edb120"/>
<polygon points="416.83,115.00 419.73,118.60 416.83,122.20 413.93,118.60" fill="#edb120"/>
<polygon points="432.00,116.00 434.90,119.60 432.00,123.20 429.10,119.60" fill="#edb120"/>
<polygon points="447.17,117.10 450.07,120.70 447.17,124.30 444.27,120.70" fill="#edb120"/>
<polygon points="462.34,117.40 465.24,121.00 462.34,124.60 459.44,121.00" fill="#edb120"/>
<polygon points="477.51,118.50 480.41,122.10 477.51,125.70 474.61,122.10" fill="#edb120"/>
<polygon points="492.69,118.70 495.59,122.30 492.69,125.90 489.79,122.30" fill="#edb120"/>
<polygon points="507.86,119.40 510.76,123.00 507.86,126.60 504.96,123.00" fill="#edb120"/>
<polygon points="523.03,119.50 525.93,123.10 523.03,126.70 520.13,123.10" fill="#edb120"/>
<polygon points="538.20,119.50 541.10,123.10 538.20,126.70 535.30,123.10" fill="#edb120"/>
<polyline points="325.80,98.00 340.97,105.40 356.14,111.90 371.31,116.10 386.49,120.00 401.66,123.60 416.83,124.90 432.00,128.20 447.17,129.60 462.34,130.30 477.51,133.00 492.69,134.00 507.86,134.70 523.03,135.80 538.20,136.80" fill="none" stroke="#7e2f8e" stroke-width="1.50" stroke-linejoin="round"/>
<circle cx="325.80" cy="98.00" r="2.10" fill="#7e2f8e"/>
<circle cx="340.97" cy="105.40" r="2.10" fill="#7e2f8e"/>
<circle cx="356.14" cy="111.90" r="2.10" fill="#7e2f8e"/>
<circle cx="371.31" cy="116.10" r="2.10" fill="#7e2f8e"/>
<circle cx="386.49" cy="120.00" r="2.10" fill="#7e2f8e"/>
<circle cx="401.66" cy="123.60" r="2.10" fill="#7e2f8e"/>
<circle cx="416.83" cy="124.90" r="2.10" fill="#7e2f8e"/>
<circle cx="432.00" cy="128.20" r="2.10" fill="#7e2f8e"/>
<circle cx="447.17" cy="129.60" r="2.10" fill="#7e2f8e"/>
<circle cx="462.34" cy="130.30" r="2.10" fill="#7e2f8e"/>
<circle cx="477.51" cy="133.00" r="2.10" fill="#7e2f8e"/>
<circle cx="492.69" cy="134.00" r="2.10" fill="#7e2f8e"/>
<circle cx="507.86" cy="134.70" r="2.10" fill="#7e2f8e"/>
<circle cx="523.03" cy="135.80" r="2.10" fill="#7e2f8e"/>
<circle cx="538.20" cy="136.80" r="2.10" fill="#7e2f8e"/>
<rect x="476.60" y="91.40" width="52.20" height="13.10" fill="#fff" stroke="#b0b0b0" stroke-width="0.8"/>
<line x1="478.3" y1="97.7" x2="488.5" y2="97.7" stroke="#7e2f8e" stroke-width="1.5"/>
<circle cx="483.00" cy="97.70" r="2.00" fill="#7e2f8e"/>
<text x="489.10" y="101.70" font-size="11.80" text-anchor="start" fill="#303030" >SI</text>
<line x1="501.6" y1="97.7" x2="511.7" y2="97.7" stroke="#edb120" stroke-width="1.5"/>
<polygon points="506.90,94.30 509.50,97.70 506.90,101.10 504.30,97.70" fill="#edb120"/>
<text x="512.40" y="101.70" font-size="11.80" text-anchor="start" fill="#303030" >SII</text>
<line x1="379.35" y1="166.70" x2="379.35" y2="222.30" stroke="#f1f1f1" stroke-width="0.8"/>
<line x1="432.30" y1="166.70" x2="432.30" y2="222.30" stroke="#f1f1f1" stroke-width="0.8"/>
<line x1="485.25" y1="166.70" x2="485.25" y2="222.30" stroke="#f1f1f1" stroke-width="0.8"/>
<line x1="326.40" y1="180.60" x2="538.20" y2="180.60" stroke="#f1f1f1" stroke-width="0.8"/>
<line x1="326.40" y1="194.50" x2="538.20" y2="194.50" stroke="#f1f1f1" stroke-width="0.8"/>
<line x1="326.40" y1="208.40" x2="538.20" y2="208.40" stroke="#f1f1f1" stroke-width="0.8"/>
<rect x="326.40" y="166.70" width="211.80" height="55.60" fill="none" stroke="#8c8c8c" stroke-width="0.9"/>
<line x1="379.35" y1="222.30" x2="379.35" y2="220.30" stroke="#8c8c8c" stroke-width="0.8"/>
<line x1="379.35" y1="166.70" x2="379.35" y2="168.70" stroke="#8c8c8c" stroke-width="0.8"/>
<line x1="432.30" y1="222.30" x2="432.30" y2="220.30" stroke="#8c8c8c" stroke-width="0.8"/>
<line x1="432.30" y1="166.70" x2="432.30" y2="168.70" stroke="#8c8c8c" stroke-width="0.8"/>
<line x1="485.25" y1="222.30" x2="485.25" y2="220.30" stroke="#8c8c8c" stroke-width="0.8"/>
<line x1="485.25" y1="166.70" x2="485.25" y2="168.70" stroke="#8c8c8c" stroke-width="0.8"/>
<line x1="326.40" y1="180.60" x2="328.40" y2="180.60" stroke="#8c8c8c" stroke-width="0.8"/>
<line x1="538.20" y1="180.60" x2="536.20" y2="180.60" stroke="#8c8c8c" stroke-width="0.8"/>
<line x1="326.40" y1="194.50" x2="328.40" y2="194.50" stroke="#8c8c8c" stroke-width="0.8"/>
<line x1="538.20" y1="194.50" x2="536.20" y2="194.50" stroke="#8c8c8c" stroke-width="0.8"/>
<line x1="326.40" y1="208.40" x2="328.40" y2="208.40" stroke="#8c8c8c" stroke-width="0.8"/>
<line x1="538.20" y1="208.40" x2="536.20" y2="208.40" stroke="#8c8c8c" stroke-width="0.8"/>
<text x="326.28" y="235.30" font-size="11.20" text-anchor="middle" fill="#303030" letter-spacing="0.10">32</text>
<text x="379.23" y="235.30" font-size="11.20" text-anchor="middle" fill="#303030" letter-spacing="0.10">88</text>
<text x="432.18" y="235.30" font-size="11.20" text-anchor="middle" fill="#303030" letter-spacing="0.10">144</text>
<text x="485.12" y="235.30" font-size="11.20" text-anchor="middle" fill="#303030" letter-spacing="0.10">200</text>
<text x="538.08" y="235.30" font-size="11.20" text-anchor="middle" fill="#303030" letter-spacing="0.10">256</text>
<text x="432.70" y="245.10" font-size="12.60" text-anchor="middle" fill="#303030" font-style="italic" letter-spacing="0">N</text>
<text x="323.20" y="170.70" font-size="11.20" text-anchor="end" fill="#303030" >4</text>
<text x="323.20" y="198.50" font-size="11.20" text-anchor="end" fill="#303030" >2</text>
<text x="323.20" y="226.30" font-size="11.20" text-anchor="end" fill="#303030" >0</text>
<text transform="translate(310.30,195.80) rotate(-90)" font-size="11.80" text-anchor="middle" fill="#303030">EVM (%)</text>
<polyline points="326.40,187.00 341.53,196.40 356.66,202.00 371.79,208.30 386.91,208.60 402.04,208.50 417.17,210.50 432.30,210.90 447.43,204.80 462.56,204.60 477.69,205.50 492.81,205.40 507.94,205.40 523.07,205.40 538.20,205.40" fill="none" stroke="#edb120" stroke-width="1.30" stroke-linejoin="round"/>
<polygon points="326.40,182.20 329.80,187.00 326.40,191.80 323.00,187.00" fill="#edb120"/>
<polygon points="341.53,191.60 344.93,196.40 341.53,201.20 338.13,196.40" fill="#edb120"/>
<polygon points="356.66,197.20 360.06,202.00 356.66,206.80 353.26,202.00" fill="#edb120"/>
<polygon points="371.79,203.50 375.19,208.30 371.79,213.10 368.39,208.30" fill="#edb120"/>
<polygon points="386.91,203.80 390.31,208.60 386.91,213.40 383.51,208.60" fill="#edb120"/>
<polygon points="402.04,203.70 405.44,208.50 402.04,213.30 398.64,208.50" fill="#edb120"/>
<polygon points="417.17,205.70 420.57,210.50 417.17,215.30 413.77,210.50" fill="#edb120"/>
<polygon points="432.30,206.10 435.70,210.90 432.30,215.70 428.90,210.90" fill="#edb120"/>
<polygon points="447.43,200.00 450.83,204.80 447.43,209.60 444.03,204.80" fill="#edb120"/>
<polygon points="462.56,199.80 465.96,204.60 462.56,209.40 459.16,204.60" fill="#edb120"/>
<polygon points="477.69,200.70 481.09,205.50 477.69,210.30 474.29,205.50" fill="#edb120"/>
<polygon points="492.81,200.60 496.21,205.40 492.81,210.20 489.41,205.40" fill="#edb120"/>
<polygon points="507.94,200.60 511.34,205.40 507.94,210.20 504.54,205.40" fill="#edb120"/>
<polygon points="523.07,200.60 526.47,205.40 523.07,210.20 519.67,205.40" fill="#edb120"/>
<polygon points="538.20,200.60 541.60,205.40 538.20,210.20 534.80,205.40" fill="#edb120"/>
<polyline points="326.40,190.60 341.53,197.60 356.66,204.10 371.79,208.40 386.91,210.30 402.04,212.60 417.17,212.60 432.30,213.20 447.43,206.40 462.56,206.40 477.69,206.60 492.81,206.40 507.94,206.40 523.07,206.20 538.20,205.80" fill="none" stroke="#7e2f8e" stroke-width="1.50" stroke-linejoin="round"/>
<circle cx="326.40" cy="190.60" r="2.10" fill="#7e2f8e"/>
<circle cx="341.53" cy="197.60" r="2.10" fill="#7e2f8e"/>
<circle cx="356.66" cy="204.10" r="2.10" fill="#7e2f8e"/>
<circle cx="371.79" cy="208.40" r="2.10" fill="#7e2f8e"/>
<circle cx="386.91" cy="210.30" r="2.10" fill="#7e2f8e"/>
<circle cx="402.04" cy="212.60" r="2.10" fill="#7e2f8e"/>
<circle cx="417.17" cy="212.60" r="2.10" fill="#7e2f8e"/>
<circle cx="432.30" cy="213.20" r="2.10" fill="#7e2f8e"/>
<circle cx="447.43" cy="206.40" r="2.10" fill="#7e2f8e"/>
<circle cx="462.56" cy="206.40" r="2.10" fill="#7e2f8e"/>
<circle cx="477.69" cy="206.60" r="2.10" fill="#7e2f8e"/>
<circle cx="492.81" cy="206.40" r="2.10" fill="#7e2f8e"/>
<circle cx="507.94" cy="206.40" r="2.10" fill="#7e2f8e"/>
<circle cx="523.07" cy="206.20" r="2.10" fill="#7e2f8e"/>
<circle cx="538.20" cy="205.80" r="2.10" fill="#7e2f8e"/>
<rect x="477.40" y="168.90" width="52.20" height="14.40" fill="#fff" stroke="#b0b0b0" stroke-width="0.8"/>
<line x1="478.9" y1="175.9" x2="488.8" y2="175.9" stroke="#7e2f8e" stroke-width="1.5"/>
<circle cx="484.00" cy="175.90" r="2.10" fill="#7e2f8e"/>
<text x="489.50" y="180.00" font-size="11.80" text-anchor="start" fill="#303030" >SI</text>
<polygon points="507.50,171.10 512.50,176.00 507.50,180.90 502.50,176.00" fill="#edb120"/>
<text x="513.00" y="180.00" font-size="11.80" text-anchor="start" fill="#303030" >SII</text>
<text x="418.4" y="277.8" font-size="14" text-anchor="middle" fill="#111">(<tspan font-weight="bold">b</tspan>)</text>
</svg>
</body></html>
